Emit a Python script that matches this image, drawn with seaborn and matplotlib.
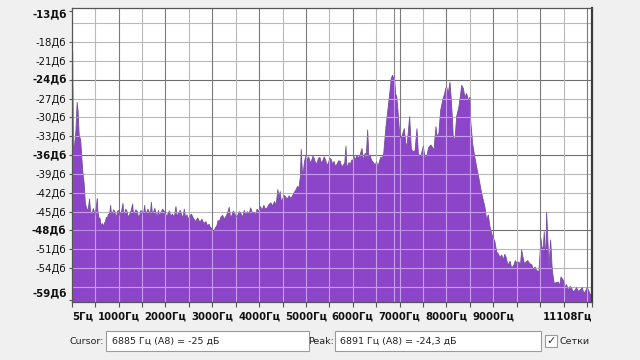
import matplotlib
matplotlib.use("Agg")
import matplotlib.pyplot as plt
from matplotlib.patches import Rectangle
import pandas as pd
import seaborn as sns

# ---- data ----
freq_hz = [5, 20, 35, 60, 90, 115, 135, 160, 190, 215, 240, 265, 290, 320, 350, 380,
           400, 420, 440, 460, 480, 500, 520, 545, 560, 570, 585, 600, 620, 640, 660, 680, 700, 720, 740,
           760, 780, 800, 815, 830, 850, 870, 895, 920, 940, 960, 980, 1000, 1020, 1040, 1065, 1094, 1110,
           1130, 1155, 1180, 1205, 1230, 1265, 1300, 1320, 1340, 1370, 1400, 1425, 1450, 1475, 1500, 1530,
           1557, 1580, 1600, 1625, 1650, 1675, 1700, 1725, 1750, 1775, 1800, 1825, 1850, 1875, 1900, 1940,
           1980, 2030, 2082, 2115, 2150, 2190, 2225, 2250, 2280, 2315, 2350, 2380, 2403, 2430, 2460, 2485,
           2510, 2555, 2600, 2645, 2689, 2735, 2780, 2820, 2866, 2900, 2930, 2960, 2990, 3020, 3050, 3075,
           3100, 3125, 3150, 3190, 3222, 3255, 3290, 3330, 3363, 3390, 3420, 3450, 3480, 3510, 3543, 3580,
           3620, 3650, 3684, 3715, 3750, 3785, 3820, 3860, 3900, 3930, 3955, 3990, 4030, 4065, 4100, 4135,
           4170, 4210, 4250, 4290, 4330, 4365, 4400, 4425, 4450, 4475, 4500, 4530, 4560, 4600, 4640, 4680,
           4720, 4755, 4790, 4820, 4851, 4880, 4900, 4930,
           4970, 4990, 5010, 5035, 5060, 5090, 5120, 5150, 5180, 5210, 5240, 5270, 5300, 5330, 5360, 5390,
           5420, 5450, 5480, 5510, 5540, 5570, 5600, 5630, 5660, 5700, 5733, 5765, 5800, 5830, 5855, 5875,
           5890, 5920, 5950, 5975, 6000, 6025, 6053, 6085, 6120, 6160, 6196, 6220, 6240, 6265, 6290, 6318,
           6345, 6370, 6400, 6440, 6481, 6510, 6540, 6570, 6600, 6630, 6660,
           6709, 6766, 6800, 6822, 6850, 6875, 6890, 6915, 6940, 6965, 6990, 7014, 7050, 7100, 7130, 7157,
           7215, 7250, 7285, 7330, 7371, 7400, 7450, 7506, 7540, 7578, 7620, 7670, 7734, 7776, 7800, 7840,
           7876, 7920, 7962, 7985, 8005, 8039, 8075, 8100, 8130, 8146, 8182, 8218, 8267, 8300, 8325, 8360,
           8396, 8432, 8466, 8502, 8517, 8560, 8594, 8645, 8701, 8752, 8823, 8859, 8893, 8929, 8987, 9036,
           9072, 9107, 9145, 9179, 9213, 9245, 9271, 9300, 9320, 9360, 9393, 9442, 9470, 9500, 9549, 9580,
           9606, 9641, 9670, 9700, 9734, 9780, 9820, 9860, 9890, 9920, 9975, 10018, 10046, 10070, 10089,
           10118, 10139, 10160, 10190, 10225, 10260, 10300, 10350, 10388, 10420, 10445, 10495, 10531, 10565,
           10602, 10640, 10674, 10710, 10744, 10780, 10815, 10851, 10900, 10930, 10958, 11000, 11028, 11070,
           11108]
level_db = [-19.0, -19.5, -35.0, -34.5, -32.0, -27.6, -29.0, -33.0, -33.5, -36.5, -39.0, -40.5, -43.7, -44.5,
            -44.8, -43.0,
            -44.9, -45.6, -45.2, -44.5, -45.0, -45.7, -44.6, -42.9, -45.2, -45.5, -46.3, -46.0, -46.8, -47.3,
            -46.9, -47.5, -46.8, -46.6, -45.9, -46.2, -45.4, -45.6, -45.0, -44.0, -45.6, -45.3, -44.7, -45.0,
            -45.9, -45.6, -44.9, -44.8, -45.7, -45.4, -44.9, -43.7, -45.5, -45.3, -44.6, -45.0, -45.8, -45.6,
            -44.9, -43.8, -45.6, -45.3, -44.7, -45.0, -45.9, -45.6, -44.8, -45.0, -45.7, -44.0, -45.6, -45.2,
            -44.6, -45.0, -45.8, -43.5, -45.6, -45.0, -44.5, -45.3, -45.9, -44.8, -45.7, -45.3, -44.6, -45.0,
            -45.8, -44.9, -45.7, -45.4, -45.9, -44.2, -45.8, -45.3, -44.8, -45.6, -45.9, -44.6, -46.0, -45.5,
            -46.3, -45.8, -45.4, -46.1, -46.6, -46.0, -46.7, -46.2, -46.9, -46.6, -47.3, -47.0, -47.5, -47.7,
            -48.2, -47.9, -47.5, -47.2, -46.4, -46.6, -45.8, -45.6, -46.2, -45.8, -45.2, -44.3, -46.0, -45.6,
            -44.9, -45.3, -45.9, -45.6, -45.0, -45.4, -45.9, -44.8, -45.6, -45.0, -45.5, -44.4, -45.3, -45.1,
            -45.6, -44.6, -45.0, -44.2, -44.8, -44.0, -44.6, -44.4, -43.9, -43.6, -44.1, -43.4, -43.9, -41.5,
            -42.8, -41.8, -43.4, -43.1, -42.4, -42.6, -43.0, -42.5, -42.9, -42.4, -41.9, -41.5, -41.0, -41.2,
            -39.5, -35.1, -39.6,
            -37.0, -36.4, -36.0, -36.9, -36.3, -37.2, -36.9, -36.2, -36.6, -37.4, -37.2, -36.5, -36.4, -37.3,
            -36.9, -36.3, -36.8, -37.6, -37.3, -36.5, -36.7, -37.5, -37.0, -37.8, -37.5, -36.9, -37.0, -37.9,
            -37.6, -37.2, -34.6, -37.9, -37.8, -37.2, -37.5, -36.8, -36.9, -36.2, -36.8, -36.1, -36.5, -35.9,
            -34.95, -36.4, -36.6, -35.7, -36.0, -32.0, -36.5, -36.0, -36.8, -37.2, -37.6, -37.1, -37.9, -37.0,
            -36.3, -36.6, -35.8,
            -31.5, -27.8, -25.5, -23.8, -23.3, -23.9, -23.4, -26.2, -26.8, -28.9, -31.5, -33.4, -33.0, -31.8,
            -34.0, -34.7, -29.9, -35.0, -35.5, -35.3, -31.8, -35.8, -36.3, -34.6, -36.3, -36.3, -34.8, -34.4,
            -35.2, -31.5, -33.1, -32.5, -28.9, -27.3, -26.2, -25.4, -25.2, -26.2, -24.4, -26.8, -30.5, -33.1,
            -33.6, -29.9, -28.3, -26.5, -24.9, -25.4, -26.8, -26.2, -27.3, -26.8, -30.5, -34.2, -35.8, -37.9,
            -40.0, -42.1, -44.3, -46.4, -45.5, -47.4, -49.0, -49.8, -51.4, -51.7, -52.3, -51.9, -52.7, -51.8,
            -52.2, -53.1, -53.5, -52.9, -54.0, -53.5, -52.8, -53.2, -53.0, -53.6, -51.1, -52.5, -53.4, -53.0,
            -52.8, -53.3, -53.4, -54.3, -53.8, -54.3, -54.6, -49.3, -51.1, -50.5, -48.2, -53.3, -45.1, -48.5,
            -53.8, -49.5, -54.3, -56.4, -56.3, -56.2, -56.8, -55.4, -55.9, -57.0, -56.6, -57.5, -56.9, -57.2,
            -57.8, -57.5, -57.1, -57.7, -57.5, -57.1, -57.9, -57.8, -57.2, -57.4, -58.2, -58.0]

y_tick_values = [-13, -18, -21, -24, -27, -30, -33, -36, -39, -42, -45, -48, -51, -54, -59]
y_tick_labels = ["-13Дб", "-18Дб", "-21Дб", "-24Дб", "-27Дб", "-30Дб", "-33Дб", "-36Дб", "-39Дб",
                 "-42Дб", "-45Дб", "-48Дб", "-51Дб", "-54Дб", "-59Дб"]
y_bold_values = [-13, -24, -36, -48, -59]
x_tick_values = [5, 1000, 2000, 3000, 4000, 5000, 6000, 7000, 8000, 9000, 11108]
x_tick_labels = ["5Гц", "1000Гц", "2000Гц", "3000Гц", "4000Гц", "5000Гц", "6000Гц", "7000Гц",
                 "8000Гц", "9000Гц", "11108Гц"]
grid_db = [-15, -18, -21, -24, -27, -30, -33, -36, -39, -42, -45, -48, -51, -54, -57]
major_grid_db = [-24, -36, -48]
grid_hz = [500, 1000, 1500, 2000, 2500, 3000, 3500, 4000, 4500, 5000, 5500, 6000, 6500, 7000,
           7500, 8000, 8500, 9000, 9500, 10000, 10500, 11000]
major_grid_hz = [1000, 2000, 3000, 4000, 5000, 6000, 7000, 8000, 9000, 10000, 11000]
cursor_hz = 6885
cursor_text = "6885 Гц (A8) = -25 дБ"
peak_text = "6891 Гц (A8) = -24,3 дБ"

df = pd.DataFrame({"freq": freq_hz, "db": level_db})

sns.set_theme(style="white")
plt.rcParams["font.family"] = ["DejaVu Sans"]

BG = "#f0f0f0"
PURPLE = "#8c45c9"
EDGE = "#74509a"
fig = plt.figure(figsize=(6.4, 3.6), dpi=100, facecolor=BG)
ax = fig.add_axes([72 / 640, 1 - 301.5 / 360, 520 / 640, (301.5 - 8) / 360])
ax.set_facecolor("white")
ax.set_xlim(5, 11108)
ax.set_ylim(-59.3, -12.6)

# grid under the spectrum (gray)
for v in grid_db:
    ax.axhline(v, color="#6e6e6e" if v in major_grid_db else "#b9b9b9", lw=0.8, zorder=0.5)
for v in grid_hz:
    ax.axvline(v, color="#7a7a7a" if v in major_grid_hz else "#b9b9b9", lw=0.8, zorder=0.5)
ax.axvline(cursor_hz, color="#8a8a8a", lw=0.8, zorder=0.5)

poly = ax.fill_between(df["freq"], df["db"], -80, color=PURPLE, lw=0, zorder=1)
sns.lineplot(data=df, x="freq", y="db", ax=ax, color=EDGE, lw=0.6, zorder=1.5, estimator=None)
clip = poly.get_paths()[0]

# grid over the spectrum (light lavender), clipped to the filled area
for v in grid_db:
    l = ax.axhline(v, color="#c79ceb" if v not in major_grid_db else "#b98ade", lw=0.8, zorder=2)
    l.set_clip_path(clip, ax.transData)
for v in grid_hz + [cursor_hz]:
    l = ax.axvline(v, color="#c79ceb", lw=0.8, zorder=2)
    l.set_clip_path(clip, ax.transData)

ax.set_xlabel("")
ax.set_ylabel("")
ax.set_yticks(y_tick_values, y_tick_labels)
ax.set_xticks(x_tick_values, x_tick_labels)
ax.set_xticks(grid_hz, minor=True)
ax.tick_params(axis="y", which="major", left=True, length=2.5, width=0.8, color="#555555",
               pad=1.5, labelsize=7.3, labelcolor="#111111")
ax.tick_params(axis="x", which="both", bottom=True, length=3.5, width=0.8, color="#555555",
               pad=4, labelsize=7.3, labelcolor="#111111")
for t, v in zip(ax.get_yticklabels(), y_tick_values):
    if v in y_bold_values:
        t.set_fontweight("bold")
    if v == y_tick_values[0]:
        t.set_va("top")
    if v == y_tick_values[-1]:
        t.set_va("bottom")
xl = ax.get_xticklabels()
for t in xl:
    t.set_fontweight("bold")
xl[0].set_ha("left")
xl[-1].set_ha("right")

for s in ["left", "bottom", "top"]:
    ax.spines[s].set_color("#555555")
    ax.spines[s].set_linewidth(0.9)
ax.spines["right"].set_color("#3a3a3a")
ax.spines["right"].set_linewidth(1.6)

# bottom controls
def box(x0, y0, x1, y1, lw=0.8):
    fig.add_artist(Rectangle((x0 / 640, 1 - y1 / 360), (x1 - x0) / 640, (y1 - y0) / 360,
                             transform=fig.transFigure, facecolor="white", edgecolor="#9a9a9a", lw=lw))

box(105.7, 330.7, 309, 350.7)
box(335, 330.7, 540.7, 350.7)
box(545, 335, 557, 347)
ty = 1 - 341 / 360
fig.text(104 / 640, ty, "Cursor:", ha="right", va="center", fontsize=6.8, color="#222222")
fig.text(111.5 / 640, ty, cursor_text, ha="left", va="center", fontsize=6.8, color="#222222")
fig.text(334 / 640, ty, "Peak:", ha="right", va="center", fontsize=6.8, color="#222222")
fig.text(339.5 / 640, ty, peak_text, ha="left", va="center", fontsize=6.8, color="#222222")
fig.text(551 / 640, ty, "✓", ha="center", va="center", fontsize=8, color="#333333")
fig.text(560 / 640, ty, "Сетки", ha="left", va="center", fontsize=6.8, color="#222222")

fig.savefig("out.png", dpi=100, facecolor=BG)
